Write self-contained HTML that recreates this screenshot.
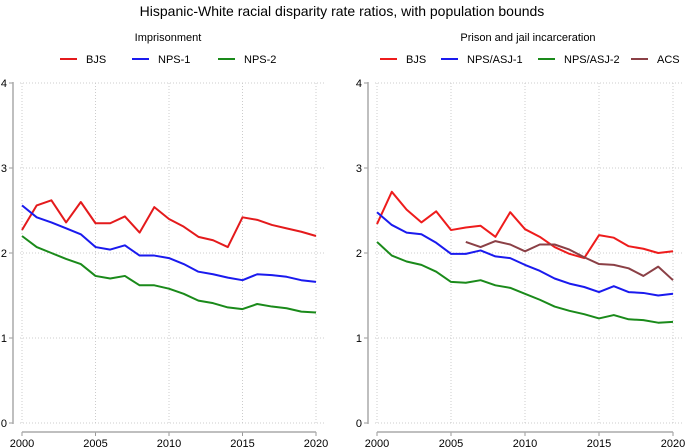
<!DOCTYPE html>
<html><head><meta charset="utf-8"><style>
body{margin:0;background:#fff;}
svg{display:block;font-family:"Liberation Sans",sans-serif;}
</style></head><body>
<svg id="c" width="685" height="448" viewBox="0 0 685 448">
<text x="342" y="16" text-anchor="middle" font-size="14">Hispanic-White racial disparity rate ratios, with population bounds</text>
</svg>
<script>
const years = [2000,2001,2002,2003,2004,2005,2006,2007,2008,2009,2010,2011,2012,2013,2014,2015,2016,2017,2018,2019,2020];
const leftBJS = [2.27,2.56,2.62,2.36,2.60,2.35,2.35,2.43,2.24,2.54,2.40,2.31,2.19,2.15,2.07,2.42,2.39,2.33,2.29,2.25,2.20];
const leftNPS1 = [2.56,2.42,2.36,2.29,2.22,2.07,2.04,2.09,1.97,1.97,1.94,1.87,1.78,1.75,1.71,1.68,1.75,1.74,1.72,1.68,1.66];
const leftNPS2 = [2.20,2.07,2.00,1.93,1.87,1.73,1.70,1.73,1.62,1.62,1.58,1.52,1.44,1.41,1.36,1.34,1.40,1.37,1.35,1.31,1.30];
const rightBJS = [2.34,2.72,2.51,2.36,2.49,2.27,2.30,2.32,2.19,2.48,2.28,2.19,2.07,1.99,1.94,2.21,2.18,2.08,2.05,2.00,2.02];
const rightASJ1 = [2.48,2.33,2.24,2.22,2.12,1.99,1.99,2.03,1.96,1.94,1.86,1.79,1.70,1.64,1.60,1.54,1.61,1.54,1.53,1.50,1.52];
const rightASJ2 = [2.13,1.97,1.90,1.86,1.78,1.66,1.65,1.68,1.62,1.59,1.52,1.45,1.37,1.32,1.28,1.23,1.27,1.22,1.21,1.18,1.19];
const acsYears = [2006,2007,2008,2009,2010,2011,2012,2013,2014,2015,2016,2017,2018,2019,2020];
const rightACS = [2.13,2.07,2.14,2.10,2.02,2.10,2.10,2.04,1.95,1.87,1.86,1.82,1.73,1.84,1.68];
const xTicks = [2000,2005,2010,2015,2020];
const yTicks = [0,1,2,3,4];

const NS="http://www.w3.org/2000/svg";
const svg=document.getElementById('c');
function mk(tag,attrs,parent){const e=document.createElementNS(NS,tag);for(const k in attrs)e.setAttribute(k,attrs[k]);(parent||svg).appendChild(e);return e;}
const y=v=>423-v*85;

const panels=[
 {x0:22,x1:316,ax:13,title:'Imprisonment',tcx:168,name:'imprisonment',
  series:[{n:'BJS',c:'#e41a1c',c2:'#ee1c1c',xs:years,v:leftBJS,lx:60},{n:'NPS-1',c:'#1a1aee',xs:years,v:leftNPS1,lx:132},{n:'NPS-2',c:'#1a8a1a',xs:years,v:leftNPS2,lx:218}]},
 {x0:377,x1:673,ax:368,title:'Prison and jail incarceration',tcx:528,name:'prison-jail',
  series:[{n:'BJS',c:'#ee1c1c',xs:years,v:rightBJS,lx:380},{n:'NPS/ASJ-1',c:'#1a1aee',xs:years,v:rightASJ1,lx:441},{n:'NPS/ASJ-2',c:'#1a8a1a',xs:years,v:rightASJ2,lx:538},{n:'ACS',c:'#8b4046',xs:acsYears,v:rightACS,lx:631}]}
];
panels.forEach(p=>{
 const g=mk('g',{});
 
 
 const x=yr=>p.x0+(yr-2000)*(p.x1-p.x0)/20;
 const t=mk('text',{x:p.tcx,y:41,'text-anchor':'middle','font-size':11},g);t.textContent=p.title;
 
 
 // grid
 yTicks.forEach(v=>{const l=mk('line',{x1:p.x0-2,x2:p.x1+9,y1:y(v),y2:y(v),stroke:'#ccc','stroke-dasharray':'1,2','stroke-width':1},g);
  
  
  const tk=mk('line',{x1:p.ax-4,x2:p.ax,y1:y(v),y2:y(v),stroke:'#999'},g);
  
  
  const tl=mk('text',{x:p.ax-6,y:y(v)+4,'text-anchor':'end','font-size':11},g);tl.textContent=v;
  
  });
 xTicks.forEach(v=>{const l=mk('line',{x1:x(v),x2:x(v),y1:y(4),y2:y(0),stroke:'#ccc','stroke-dasharray':'1,2'},g);
  
  
  const tk=mk('line',{x1:x(v),x2:x(v),y1:432,y2:436,stroke:'#999'},g);
  
  
  const tl=mk('text',{x:x(v),y:447,'text-anchor':'middle','font-size':11},g);tl.textContent=v;
  
  });
 const ya=mk('line',{x1:p.ax,x2:p.ax,y1:y(4)-1,y2:y(0)+1,stroke:'#aaa','stroke-width':1.5},g);
 
 
 const xa=mk('line',{x1:p.x0,x2:p.x1,y1:432,y2:432,stroke:'#aaa','stroke-width':1.5},g);
 
 
 p.series.forEach(s=>{
  const pts=s.v.map((v,i)=>x(s.xs[i])+','+y(v)).join(' ');
  const pl=mk('polyline',{points:pts,fill:'none',stroke:s.c,'stroke-width':2,'stroke-linejoin':'round'},g);
  
  
  const lg=mk('g',{},g);
  
  
  mk('line',{x1:s.lx,x2:s.lx+17,y1:59,y2:59,stroke:s.c,'stroke-width':2},lg);
  const lt=mk('text',{x:s.lx+26,y:63,'font-size':11},lg);lt.textContent=s.n;
 });
});
</script>
</body></html>
